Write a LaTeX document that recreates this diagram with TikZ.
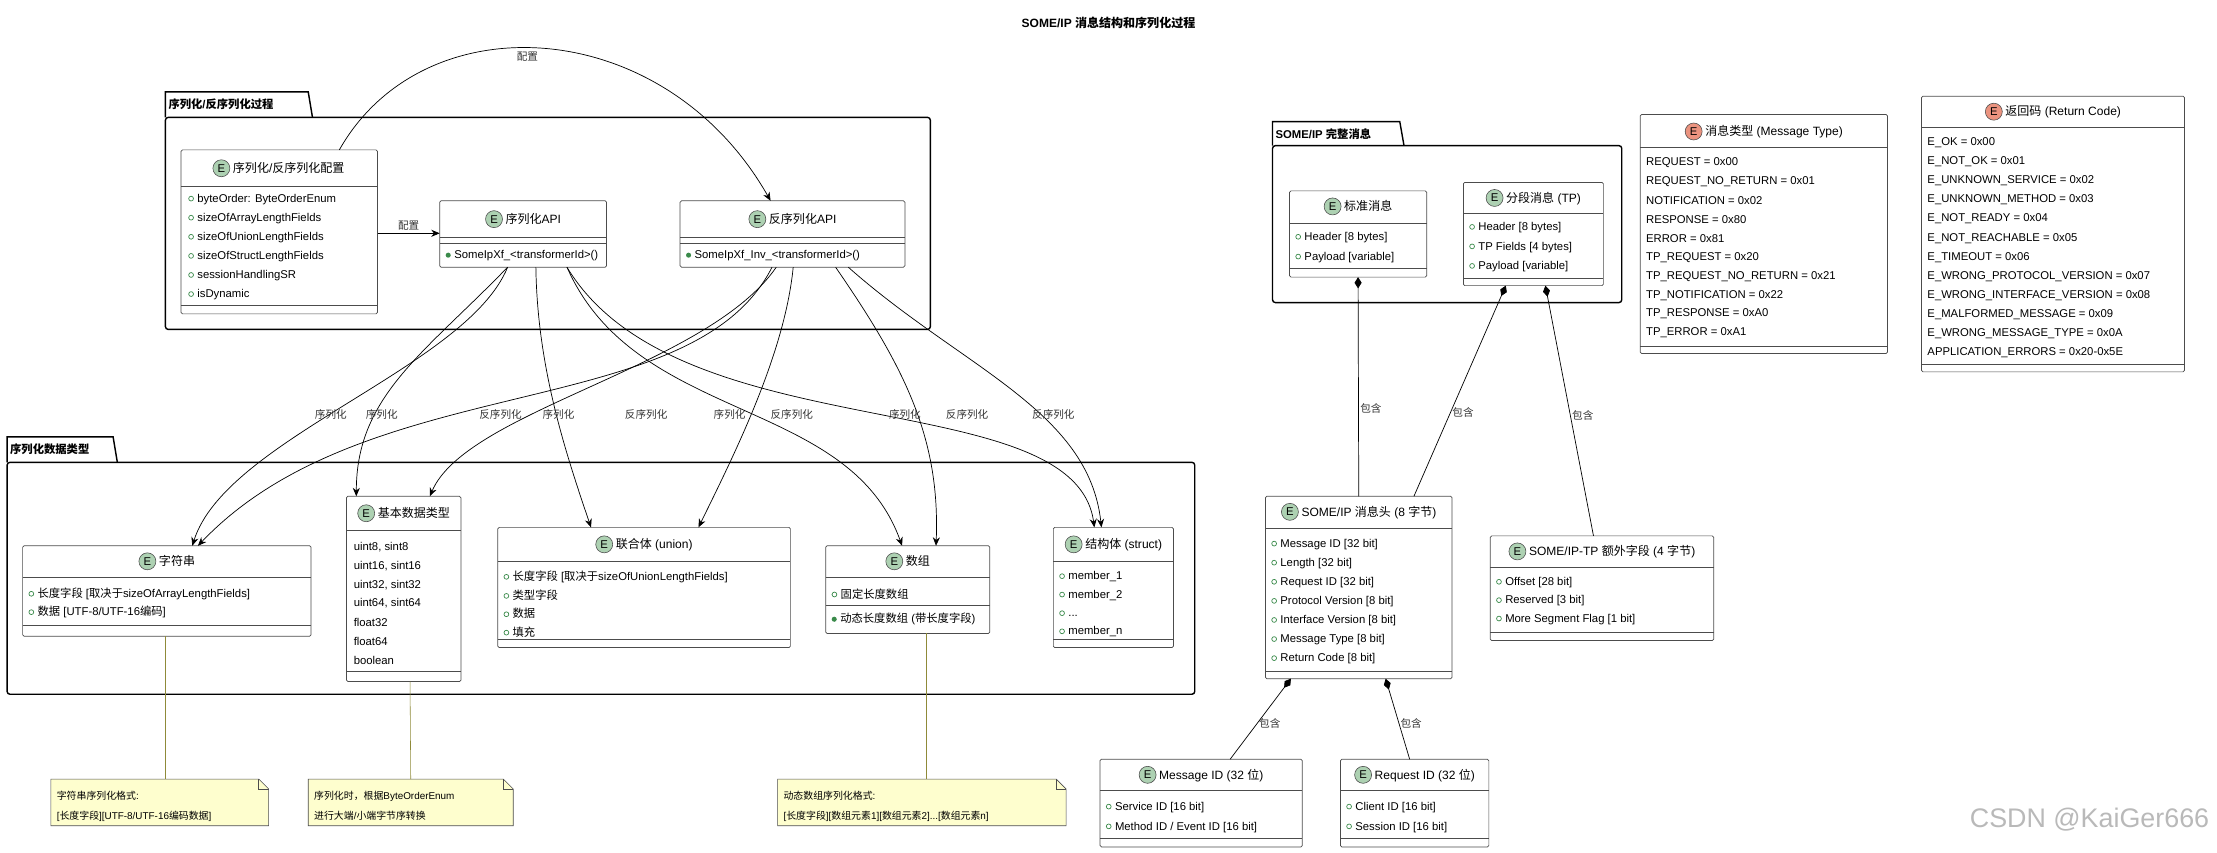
\documentclass[tikz,border=0pt]{standalone}
\usepackage{fontspec}
\setmainfont{Liberation Sans}
\newfontfamily\cjk{Noto Sans CJK SC}
\usetikzlibrary{arrows.meta}
% switch to the CJK font for Chinese characters
\XeTeXinterchartokenstate=1
\newXeTeXintercharclass\CJKcls
\count255="4E00 \loop\XeTeXcharclass\count255=\CJKcls\ifnum\count255<"9FFF\advance\count255 by 1\repeat
\count255="FF00 \loop\XeTeXcharclass\count255=\CJKcls\ifnum\count255<"FFEF\advance\count255 by 1\repeat
\XeTeXinterchartoks 0 \CJKcls={\cjk}
\XeTeXinterchartoks 4095 \CJKcls={\cjk}
\XeTeXinterchartoks \CJKcls 0={\rmfamily}
\XeTeXinterchartoks \CJKcls 4095={\rmfamily}
\definecolor{clsC}{HTML}{ADD1B2}
\definecolor{clsE}{HTML}{EB937F}
\definecolor{notefill}{HTML}{FEFECE}
\definecolor{bulletc}{HTML}{3A8A4A}
\newcommand\ob{\tikz[baseline=-2.6pt]\draw[bulletc,line width=0.5pt] (0,0) circle (1.7pt);\hspace{2.5pt}}
\newcommand\fb{\tikz[baseline=-2.6pt]\fill[bulletc] (0,0) circle (1.8pt);\hspace{2.5pt}}
% box: name, x1, y1, x2, y2, header line
\newcommand\umlbox[6]{%
  \pgfmathsetmacro\bw{#4-#2}\pgfmathsetmacro\bh{#5-#3}%
  \node[box, minimum width=\bw pt, minimum height=\bh pt, anchor=north west] (#1) at (#2,#3) {};
  \draw[sep] (#2,#6) -- (#4,#6);}
\newcommand\sepline[3]{\draw[sep] (#1,#3) -- (#2,#3);}
\newcommand\ctitle[4]{\node[ttl] at (#1,#2) {\tikz[baseline=-3pt]\node[circ,fill=#3]{\rmfamily\ifx C#4C\else E\fi};\hspace{2pt}#4};}
\begin{document}
\begin{tikzpicture}[x=1pt,y=-1pt,
  box/.style={draw=gray!60!black, fill=white, line width=0.5pt, rounded corners=1pt, inner sep=0pt, outer sep=0pt},
  sep/.style={draw=gray!60!black, line width=0.5pt},
  circ/.style={circle, draw=gray!60!black, line width=0.4pt, minimum size=12pt, inner sep=0pt, font=\fontsize{8}{8}\selectfont},
  ttl/.style={font=\fontsize{8.5}{10}\selectfont, inner sep=0pt},
  fld/.style={anchor=west, font=\fontsize{8}{10}\selectfont, inner sep=0pt},
  lbl/.style={font=\fontsize{7.5}{9}\selectfont, text=black!80, inner sep=1pt},
  pkg/.style={draw=black, line width=1pt},
  pkgname/.style={anchor=west, font=\fontsize{8}{10}\selectfont\bfseries, inner sep=0pt},
  link/.style={draw=black, line width=0.5pt, -{Stealth[length=6pt,width=5pt]}},
  comp/.style={draw=black, line width=0.5pt, {Diamond[length=8pt,width=5pt]}-},
  notelink/.style={draw=olive!60!gray, line width=0.4pt},
  note/.style={inner sep=0pt, outer sep=0pt},
  notetext/.style={anchor=west, font=\fontsize{7}{9}\selectfont, inner sep=0pt}]
\useasboundingbox (0,0) rectangle (1568,602.6);

\node[font=\fontsize{8.5}{10}\selectfont\bfseries] (title) at (784,16) {SOME/IP 消息结构和序列化过程};

% packages
\draw[pkg] (117,83) |- (218,65) -- (221,83);
\draw[pkg, rounded corners=2pt] (117,83) rectangle (658,233);
\node[pkgname] at (119,74) {序列化/反序列化过程};
\draw[pkg] (5,327) |- (80,309) -- (83,327);
\draw[pkg, rounded corners=2pt] (5,327) rectangle (845,491);
\node[pkgname] at (7,318) {序列化数据类型};
\draw[pkg] (900,103) |- (990,86) -- (993,103);
\draw[pkg, rounded corners=2pt] (900,103) rectangle (1147,214);
\node[pkgname] at (902,95) {SOME/IP 完整消息};

% serialization process
\umlbox{cfg}{128}{106}{267}{222}{132}
\ctitle{197}{119}{clsC}{序列化/反序列化配置}
\foreach \t [count=\i] in {byteOrder: ByteOrderEnum, sizeOfArrayLengthFields, sizeOfUnionLengthFields,
    sizeOfStructLengthFields, sessionHandlingSR, isDynamic}
  \node[fld] at (133,141+13.5*\i-13.5) {\ob\t};
\sepline{128}{267}{216}

\umlbox{ser}{311}{142}{429}{189}{168}
\ctitle{370}{155}{clsC}{序列化API}
\sepline{311}{429}{172}
\node[fld] at (315,181) {\fb SomeIpXf\_<transformerId>()};

\umlbox{inv}{481}{142}{640}{189}{168}
\ctitle{560.5}{155}{clsC}{反序列化API}
\sepline{481}{640}{172}
\node[fld] at (485,181) {\fb SomeIpXf\_Inv\_<transformerId>()};

% data types
\umlbox{str}{16}{386}{220}{450}{408}
\ctitle{118}{397}{clsC}{字符串}
\node[fld] at (20,420) {\ob 长度字段 [取决于sizeOfArrayLengthFields]};
\node[fld] at (20,433) {\ob 数据 [UTF-8/UTF-16编码]};
\sepline{16}{220}{442}

\umlbox{base}{245}{351}{326}{482}{375}
\ctitle{285.5}{363}{clsC}{基本数据类型}
\foreach \t [count=\i] in {{uint8, sint8}, {uint16, sint16}, {uint32, sint32}, {uint64, sint64}, float32, float64, boolean}
  \node[fld] at (250,387+13.3*\i-13.3) {\t};
\sepline{245}{326}{475}

\umlbox{uni}{352}{373}{559}{458}{397}
\ctitle{455.5}{385}{clsC}{联合体 (union)}
\foreach \t [count=\i] in {长度字段 [取决于sizeOfUnionLengthFields], 类型字段, 数据, 填充}
  \node[fld] at (356,408+13*\i-13) {\ob\t};
\sepline{352}{559}{452}

\umlbox{arr}{584}{386}{700}{448}{408}
\ctitle{642}{397}{clsC}{数组}
\node[fld] at (588,420) {\ob 固定长度数组};
\sepline{584}{700}{428}
\node[fld] at (588,438) {\fb 动态长度数组 (带长度字段)};

\umlbox{strc}{745}{373}{830}{458}{397}
\ctitle{787.5}{385}{clsC}{结构体 (struct)}
\foreach \t [count=\i] in {member\_1, member\_2, {.{}.{}.}, member\_n}
  \node[fld] at (749,408+13*\i-13) {\ob\t};
\sepline{745}{830}{452}

% notes
\foreach \n/\xa/\xb/\la/\lb in {n1/36/190/字符串序列化格式:/{[长度字段][UTF-8/UTF-16编码数据]},
    n2/218/363/{序列化时，根据ByteOrderEnum}/{进行大端/小端字节序转换},
    n3/550/754/动态数组序列化格式:/{[长度字段][数组元素1][数组元素2].{}.{}.[数组元素n]}} {
  \pgfmathsetmacro\nw{\xb-\xa}
  \node[note, minimum width=\nw pt, minimum height=33pt, anchor=north west] (\n) at (\xa,551) {};
  \draw[fill=notefill, draw=gray!60!black, line width=0.4pt] (\n.south west) |- ([xshift=-7pt]\n.north east)
    -- ([yshift=-7pt]\n.north east) |- cycle;
  \draw[draw=gray!60!black, line width=0.4pt] ([xshift=-7pt]\n.north east) |- ([yshift=-7pt]\n.north east);
  \node[notetext] at (\xa+4,563) {\la};
  \node[notetext] at (\xa+4,577) {\lb};
}
\draw[notelink] ([xshift=-1pt]str.south) -- ([xshift=4pt]n1.north);
\draw[notelink] ([xshift=4.5pt]base.south) -- (n2.north);
\draw[notelink] ([xshift=13pt]arr.south) -- ([xshift=3pt]n3.north);

% complete message
\umlbox{std}{912}{135}{1009}{196}{158}
\ctitle{960.5}{146}{clsC}{标准消息}
\node[fld] at (916,168) {\ob Header [8 bytes]};
\node[fld] at (916,182) {\ob Payload [variable]};
\sepline{912}{1009}{190}

\umlbox{tp}{1035}{129}{1134}{202}{151}
\ctitle{1084.5}{140}{clsC}{分段消息 (TP)}
\foreach \t [count=\i] in {Header [8 bytes], TP Fields [4 bytes], Payload [variable]}
  \node[fld] at (1039,161+13.8*\i-13.8) {\ob\t};
\sepline{1035}{1134}{197}

\umlbox{mtype}{1160}{81}{1335}{250}{104}
\ctitle{1247.5}{93}{clsE}{消息类型 (Message Type)}
\foreach \t [count=\i] in {REQUEST = 0x00, REQUEST\_NO\_RETURN = 0x01, NOTIFICATION = 0x02, RESPONSE = 0x80,
    ERROR = 0x81, TP\_REQUEST = 0x20, TP\_REQUEST\_NO\_RETURN = 0x21, TP\_NOTIFICATION = 0x22,
    TP\_RESPONSE = 0xA0, TP\_ERROR = 0xA1}
  \node[fld] at (1164,115+13.4*\i-13.4) {\t};
\sepline{1160}{1335}{245}

\umlbox{rcode}{1359}{68}{1545}{263}{90}
\ctitle{1452}{79}{clsE}{返回码 (Return Code)}
\foreach \t [count=\i] in {E\_OK = 0x00, E\_NOT\_OK = 0x01, E\_UNKNOWN\_SERVICE = 0x02, E\_UNKNOWN\_METHOD = 0x03,
    E\_NOT\_READY = 0x04, E\_NOT\_REACHABLE = 0x05, E\_TIMEOUT = 0x06, E\_WRONG\_PROTOCOL\_VERSION = 0x07,
    E\_WRONG\_INTERFACE\_VERSION = 0x08, E\_MALFORMED\_MESSAGE = 0x09, E\_WRONG\_MESSAGE\_TYPE = 0x0A,
    APPLICATION\_ERRORS = 0x20-0x5E}
  \node[fld] at (1363,101+13.5*\i-13.5) {\t};
\sepline{1359}{1545}{258}

\umlbox{hdr}{895}{351}{1027}{480}{374}
\ctitle{961}{362}{clsC}{SOME/IP 消息头 (8 字节)}
\foreach \t [count=\i] in {Message ID [32 bit], Length [32 bit], Request ID [32 bit], Protocol Version [8 bit],
    Interface Version [8 bit], Message Type [8 bit], Return Code [8 bit]}
  \node[fld] at (899,385+13.5*\i-13.5) {\ob\t};
\sepline{895}{1027}{475}

\umlbox{tpx}{1054}{379}{1212}{453}{401}
\ctitle{1133}{390}{clsC}{SOME/IP-TP 额外字段 (4 字节)}
\foreach \t [count=\i] in {Offset [28 bit], Reserved [3 bit], More Segment Flag [1 bit]}
  \node[fld] at (1058,412+13*\i-13) {\ob\t};
\sepline{1054}{1212}{447}

\umlbox{msgid}{778}{537}{921}{599}{559}
\ctitle{849.5}{548}{clsC}{Message ID (32 位)}
\node[fld] at (782,571) {\ob Service ID [16 bit]};
\node[fld] at (782,585) {\ob Method ID / Event ID [16 bit]};
\sepline{778}{921}{593}

\umlbox{reqid}{948}{537}{1053}{599}{559}
\ctitle{1000.5}{548}{clsC}{Request ID (32 位)}
\node[fld] at (952,571) {\ob Client ID [16 bit]};
\node[fld] at (952,585) {\ob Session ID [16 bit]};
\sepline{948}{1053}{593}

% configuration links
\draw[link] (cfg.east |- 0,165) -- (ser.west |- 0,165) node[lbl, midway, above=1pt] {配置};
\draw[link] ([xshift=42.5pt]cfg.north) .. controls (300,0) and (470,10) .. ([xshift=-15.5pt]inv.north);
\node[lbl] at (373,40) {配置};

% serialize / deserialize links
\draw[link] ([xshift=-11pt]ser.south) .. controls (330,260) and (160,310) .. ([xshift=18pt]str.north);
\draw[link] ([xshift=-11pt]ser.south) .. controls (300,250) and (252,280) .. ([xshift=-33.5pt]base.north);
\draw[link] ([xshift=-14.5pt]inv.south) .. controls (490,300) and (260,260) .. ([xshift=22pt]str.north);
\draw[link] ([xshift=9pt]ser.south) .. controls (380,260) and (400,320) .. ([xshift=-37.5pt]uni.north);
\draw[link] ([xshift=-11.5pt]inv.south) .. controls (500,260) and (330,290) .. ([xshift=18.5pt]base.north);
\draw[link] ([xshift=31pt]ser.south) .. controls (450,300) and (600,280) .. ([xshift=-4pt]arr.north);
\draw[link] ([xshift=0.5pt]inv.south) .. controls (555,250) and (520,320) .. ([xshift=38.5pt]uni.north);
\draw[link] ([xshift=31pt]ser.south) .. controls (480,320) and (760,270) .. ([xshift=-13.5pt]strc.north);
\draw[link] ([xshift=30.5pt]inv.south) .. controls (640,260) and (665,310) .. ([xshift=20pt]arr.north);
\draw[link] ([xshift=39.5pt]inv.south) .. controls (680,260) and (770,290) .. ([xshift=-8.5pt]strc.north);
\foreach \x/\t in {234/序列化, 270/序列化, 354/反序列化, 395/序列化, 457/反序列化, 516/序列化,
    560/反序列化, 640/序列化, 684/反序列化, 745/反序列化}
  \node[lbl] at (\x,293) {\t};

% composition links
\draw[comp] (std.south) -- (hdr.north) node[lbl, pos=0.6, right] {包含};
\draw[comp] ([xshift=-19.5pt]tp.south) -- ([xshift=39pt]hdr.north) node[lbl, pos=0.6, right] {包含};
\draw[comp] ([xshift=8.5pt]tp.south) -- ([xshift=-6pt]tpx.north) node[lbl, pos=0.52, right] {包含};
\draw[comp] ([xshift=-48pt]hdr.south) -- ([xshift=20.5pt]msgid.north) node[lbl, pos=0.55, right] {包含};
\draw[comp] ([xshift=19pt]hdr.south) -- ([xshift=-3.5pt]reqid.north) node[lbl, pos=0.55, right] {包含};

\node[anchor=east, text=gray!55, font=\fontsize{19}{20}\selectfont] (mark) at (1566,580) {CSDN @KaiGer666};
\end{tikzpicture}
\end{document}
